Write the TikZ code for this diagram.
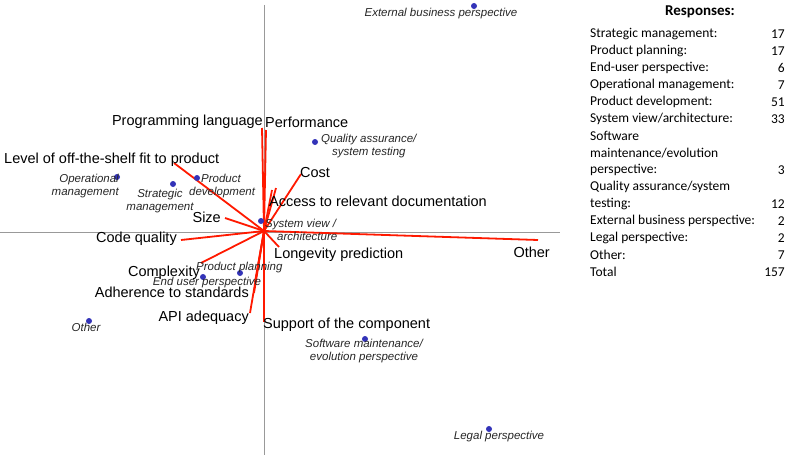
\documentclass[tikz,border=0pt]{standalone}
\usepackage{fontspec}
\setmainfont{Liberation Sans}
\newfontfamily\tabfont{Carlito}
\begin{document}
\begin{tikzpicture}[x=1pt,y=-1pt,
  axis/.style={draw=gray!80,line width=0.8pt},
  vec/.style={draw=red!80!orange,line width=1.8pt},
  dot/.style={circle,fill=blue!65!black!80,inner sep=0pt,minimum size=6pt},
  lab/.style={font=\fontsize{14.5}{16}\selectfont,inner sep=1pt},
  ilab/.style={font=\fontsize{11.5}{13}\selectfont\itshape,inner sep=1pt,align=center,text=black!85},
  row/.style={font=\tabfont\fontsize{13.5}{15}\selectfont,anchor=west,inner sep=0pt},
  num/.style={font=\tabfont\fontsize{13.5}{15}\selectfont,anchor=east,inner sep=0pt}]
\useasboundingbox (0,0) rectangle (785,460);
\coordinate (vt) at (264,5); \coordinate (vb) at (264,455);
\coordinate (hl) at (0,232); \coordinate (hr) at (560,232);
\draw[axis] (vt) -- (vb);
\draw[axis] (hl) -- (hr);
\coordinate (o) at (264,231);
% vectors
\coordinate (ea) at (262,128); \coordinate (eb) at (266,130);
\coordinate (ec) at (174,163); \coordinate (ed) at (301,174);
\coordinate (ee) at (276,188); \coordinate (ef) at (225,218);
\coordinate (eg) at (181,240); \coordinate (eh) at (538,240);
\coordinate (ei) at (279,247); \coordinate (ej) at (201,263);
\coordinate (ek) at (254,293); \coordinate (el) at (250,313);
\coordinate (em) at (264,322); \coordinate (en) at (255,282);
\coordinate (ep) at (272,190);
\foreach \n in {a,b,c,d,e,f,g,h,i,j,k,l,m,n,p}{\draw[vec] (o) -- (e\n);}
% vector labels
\node[lab,anchor=east] (tpl) at (264,122) {Programming language};
\node[lab,anchor=west] (tperf) at (264,122) {Performance};
\node[lab,anchor=west] (tlev) at (3,160) {Level of off-the-shelf fit to product};
\node[lab,anchor=west] (tcost) at (299,173) {Cost};
\node[lab,anchor=west] (tacc) at (268,201) {Access to relevant documentation};
\node[lab,anchor=east] (tsize) at (222,217) {Size};
\node[lab,anchor=east] (tcq) at (178,239) {Code quality};
\node[lab,anchor=east] (tother) at (551,252) {Other};
\node[lab,anchor=west] (tlong) at (273,255) {Longevity prediction};
\node[lab,anchor=east] (tcomp) at (201,273) {Complexity};
\node[lab,anchor=east] (tadh) at (250,292) {Adherence to standards};
\node[lab,anchor=east] (tapi) at (250,318) {API adequacy};
\node[lab,anchor=west] (tsup) at (262,325) {Support of the component};
% dots
\node[dot] (ext) at (474,6) {};
\node[ilab,anchor=north] (text) at (441,7) {External business perspective};
\node[dot] (qa) at (315,142) {};
\node[ilab,anchor=west] (tqa) at (320,146) {Quality assurance/\\system testing};
\node[dot] (op) at (117,177) {};
\node[ilab,anchor=east,align=right] (top) at (120,186) {Operational\\management};
\node[dot] (sm) at (173,184) {};
\node[ilab,anchor=north] (tsm) at (160,188) {Strategic\\management};
\node[dot] (pd) at (197,178) {};
\node[ilab,anchor=west,align=left] (tpd) at (188,186) {\hspace{12pt}Product\\development};
\node[dot] (sv) at (261,221) {};
\node[ilab,anchor=west,align=left] (tsv) at (264,230) {System view /\\\hspace{12pt}architecture};
\node[dot] (pp) at (240,273) {};
\node[ilab,anchor=west] (tpp) at (195,268) {Product planning};
\node[dot] (eu) at (203,277) {};
\node[ilab,anchor=north] (teu) at (207,276) {End user perspective};
\node[dot] (oth) at (89,321) {};
\node[ilab,anchor=north] (toth) at (86,322) {Other};
\node[dot] (swm) at (365,339) {};
\node[ilab,anchor=north] (tswm) at (364,338) {Software maintenance/\\evolution perspective};
\node[dot] (leg) at (489,429) {};
\node[ilab,anchor=north] (tleg) at (499,430) {Legal perspective};
% table
\node[font=\tabfont\bfseries\fontsize{15}{17}\selectfont] (thead) at (700,12) {Responses:};
\foreach \t/\v/\y in {{Strategic management:}/17/34, {Product planning:}/17/51, {End-user perspective:}/6/68, {Operational management:}/7/85, {Product development:}/51/102, {System view/architecture:}/33/119, {Software}//136, {maintenance/evolution}//153, {perspective:}/3/170, {Quality assurance/system}//187, {testing:}/12/204, {External business perspective:}/2/221, {Legal perspective:}/2/238, {Other:}/7/255, {Total}/157/272}{
  \node[row] at (590,\y) {\t};
  \node[num] at (785,\y) {\v};}
\end{tikzpicture}
\end{document}
